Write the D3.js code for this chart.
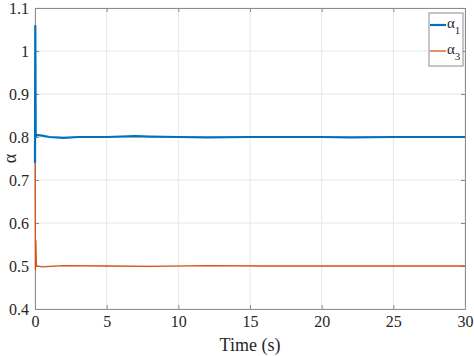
<!DOCTYPE html>
<html><head><meta charset="utf-8">
<script src="https://cdn.jsdelivr.net/npm/d3@7"></script>
<style>body{margin:0;background:#fff}svg{display:block}</style>
</head><body>
<script>
const alpha1T = [0, 0.02, 0.05, 0.1, 0.5, 1, 2, 3, 5, 7, 8, 10, 12, 15, 20, 22, 25, 28, 30];
const alpha1V = [0.74, 1.06, 0.80, 0.805, 0.803, 0.800, 0.798, 0.800, 0.800, 0.802, 0.801, 0.800, 0.799, 0.800, 0.800, 0.799, 0.800, 0.800, 0.800];
const alpha3T = [0, 0.03, 0.06, 0.1, 0.5, 2, 5, 8, 12, 16, 20, 25, 30];
const alpha3V = [0.80, 0.49, 0.56, 0.50, 0.498, 0.501, 0.500, 0.499, 0.501, 0.500, 0.500, 0.500, 0.500];
const xTicks = [0, 5, 10, 15, 20, 25, 30];
const yTicks = [0.4, 0.5, 0.6, 0.7, 0.8, 0.9, 1, 1.1];
const seriesNames = ["α1", "α3"];
const seriesColors = ["#0072BD", "#D95319"];

const FONT = "Liberation Serif";
const W = 474, H = 356;
const m = {l: 35, r: 9, t: 8, b: 47};
const svg = d3.select("body").append("svg").attr("width", W).attr("height", H)
  .attr("font-family", FONT);
const x = d3.scaleLinear().domain([0, 30]).range([m.l, W - m.r]);
const y = d3.scaleLinear().domain([0.4, 1.1]).range([H - m.b, m.t]);

// grid
svg.append("g").selectAll("line").data(xTicks).join("line")
  .attr("x1", d => x(d)).attr("x2", d => x(d)).attr("y1", m.t).attr("y2", H - m.b)
  .attr("stroke", "#e6e6e6").attr("stroke-width", 1);
svg.append("g").selectAll("line").data(yTicks).join("line")
  .attr("x1", m.l).attr("x2", W - m.r).attr("y1", d => y(d)).attr("y2", d => y(d))
  .attr("stroke", "#e6e6e6").attr("stroke-width", 1);

// axes
const ax = (g) => {
  g.attr("font-family", FONT).attr("font-size", 16);
  g.select(".domain").attr("stroke", "#8c8c8c");
  g.selectAll(".tick line").attr("stroke", "#8c8c8c");
  g.selectAll(".tick text").attr("fill", "#262626").attr("font-family", FONT).attr("font-size", 16);
};
svg.append("g").attr("transform", `translate(0,${H - m.b})`)
  .call(d3.axisBottom(x).tickValues(xTicks).tickSize(-4).tickPadding(7).tickSizeOuter(0)).call(ax);
svg.append("g").attr("transform", `translate(${m.l},0)`)
  .call(d3.axisLeft(y).tickValues(yTicks).tickFormat(d => d3.format("")(+d.toFixed(1))).tickSize(-4).tickPadding(6).tickSizeOuter(0)).call(ax);
svg.append("g").attr("transform", `translate(0,${m.t})`)
  .call(d3.axisTop(x).tickValues(xTicks).tickSize(-4).tickFormat("").tickSizeOuter(0)).call(ax);
svg.append("g").attr("transform", `translate(${W - m.r},0)`)
  .call(d3.axisRight(y).tickValues(yTicks).tickSize(-4).tickFormat("").tickSizeOuter(0)).call(ax);

// lines
const line = d3.line().x(d => x(d[0])).y(d => y(d[1]));
const s3 = alpha3T.map((t, i) => [t, alpha3V[i]]);
const s1 = alpha1T.map((t, i) => [t, alpha1V[i]]);
svg.append("path").datum(s3).attr("d", line).attr("fill", "none").attr("stroke", seriesColors[1]).attr("stroke-width", 1.3);
svg.append("path").datum(s1).attr("d", line).attr("fill", "none").attr("stroke", seriesColors[0]).attr("stroke-width", 2.2);

// labels
svg.append("text").attr("x", (m.l + W - m.r) / 2).attr("y", 351).attr("text-anchor", "middle")
  .attr("font-family", FONT).attr("font-size", 18).attr("fill", "#262626").text("Time (s)");
svg.append("text").attr("transform", `translate(16,${y(0.75)}) rotate(-90)`).attr("text-anchor", "middle")
  .attr("font-family", FONT).attr("font-size", 18).attr("fill", "#262626").text("α");

// legend
const lg = svg.append("g");
lg.append("rect").attr("x", 429).attr("y", 13).attr("width", 34).attr("height", 53)
  .attr("fill", "#fff").attr("stroke", "#8c8c8c").attr("stroke-width", 1);
[0, 1].forEach(i => {
  const yy = 25 + i * 26;
  lg.append("line").attr("x1", 430).attr("x2", 446).attr("y1", yy).attr("y2", yy)
    .attr("stroke", seriesColors[i]).attr("stroke-width", i === 0 ? 2.2 : 1.3);
  const t = lg.append("text").attr("x", 447).attr("y", yy + 3)
    .attr("font-family", FONT).attr("font-size", 15).attr("fill", "#262626");
  t.append("tspan").text(seriesNames[i][0]);
  t.append("tspan").attr("dy", 6).attr("font-size", 11).text(seriesNames[i].slice(1));
});
</script>
</body></html>
